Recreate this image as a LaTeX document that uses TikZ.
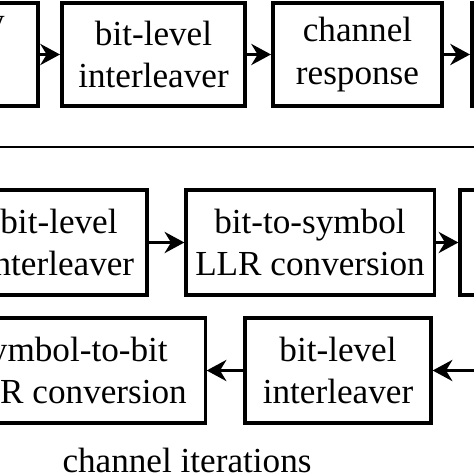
\documentclass[tikz,border=0pt]{standalone}
\usepackage{fontspec}
\setmainfont{Liberation Serif}
\usepackage{tikz}
\usetikzlibrary{positioning}
\usetikzlibrary{arrows.meta}

\tikzset{
    blk/.style={draw, line width=0.9pt, align=center, inner sep=0pt, font=\fontsize{10}{12}\selectfont},
    txt/.style={inner sep=0pt, font=\fontsize{10}{12}\selectfont},
    flow/.style={line width=0.9pt, -{Stealth[length=5.6pt,width=6pt,inset=1.8pt]}},
}

\begin{document}
\begin{tikzpicture}[x=0.01cm,y=-0.01cm]
    \clip (0,0) rectangle (474,474);

    % transmitter row
    \node[blk, line width=1.1pt, minimum width=1.9cm, minimum height=1.03cm] (map) at (-57,54.5) {};
    \node[txt, anchor=base east] (mapt) at (5.5,33) {y};
    \node[blk, line width=1.1pt, minimum width=1.83cm, minimum height=1.03cm] (il1) at (153.5,54.5) {bit-level\\interleaver};
    \node[blk, line width=1.1pt, minimum width=1.69cm, minimum height=1.03cm] (chan) at (357.5,54.5) {channel\\response};
    \node[blk, line width=1.1pt, minimum width=1.8cm, minimum height=1.03cm] (rx) at (562,54.5) {};

    \draw[flow] (map) -- (il1);
    \draw[flow] (il1) -- (chan);
    \draw[flow] (chan) -- (rx);

    \coordinate (sepl) at (-10,147);
    \coordinate (sepr) at (484,147);
    \draw[line width=0.7pt] (sepl) -- (sepr);

    % receiver rows
    \node[blk, minimum width=1.76cm, minimum height=1.05cm] (il2) at (59,242.5) {bit-level\\interleaver};
    \node[blk, minimum width=2.48cm, minimum height=1.05cm] (b2s) at (310,242.5) {bit-to-symbol\\LLR conversion};
    \node[blk, minimum width=2cm, minimum height=1.05cm] (det) at (560,242.5) {};

    \node[blk, minimum width=2.66cm, minimum height=1.05cm] (s2b) at (72,370.5) {symbol-to-bit\\LLR conversion};
    \node[blk, minimum width=1.86cm, minimum height=1.05cm] (il3) at (338,370.5) {bit-level\\interleaver};
    \node[blk, minimum width=2cm, minimum height=1.05cm] (dec) at (620,370.5) {};

    \draw[flow] (il2) -- (b2s);
    \draw[flow] (b2s) -- (det);
    \draw[flow] (dec) -- (il3);
    \draw[flow] (il3) -- (s2b);

    \node[txt, anchor=base] (iter) at (187,472) {channel iterations};
\end{tikzpicture}
\end{document}
